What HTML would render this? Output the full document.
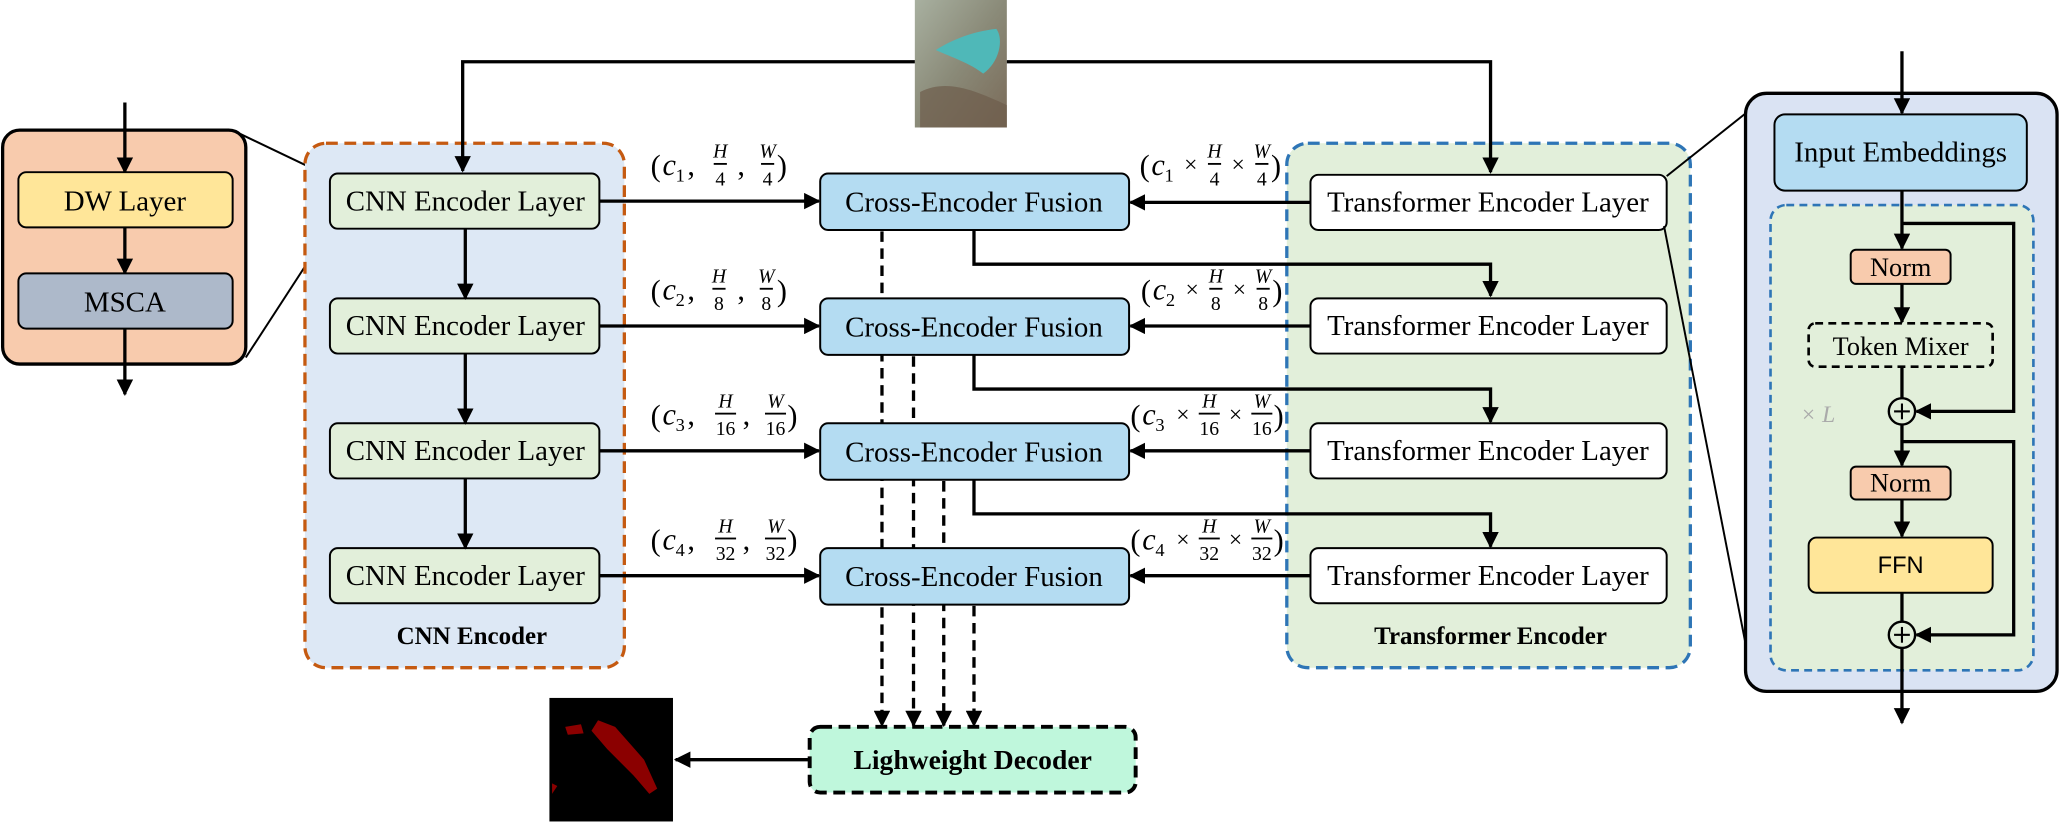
<!DOCTYPE html>
<html><head><meta charset="utf-8"><style>
html,body{margin:0;padding:0;background:#fff}
svg{display:block}
</style></head><body>
<svg width="2061" height="822" viewBox="0 0 1568 625.4" preserveAspectRatio="none" xmlns="http://www.w3.org/2000/svg">
<defs>
<marker id="a" viewBox="0 0 10 10" refX="9" refY="5" markerWidth="5" markerHeight="5" orient="auto-start-reverse"><path d="M0,0 L10,5 L0,10 z" fill="#000"/></marker>
</defs>
<rect x="2" y="99" width="185" height="178" rx="13" fill="#f8cbad" stroke="#000" stroke-width="2.5"/>
<line x1="95" y1="78" x2="95" y2="131" stroke="#000" stroke-width="2.5" marker-end="url(#a)"/>
<line x1="95" y1="173" x2="95" y2="208" stroke="#000" stroke-width="2.5" marker-end="url(#a)"/>
<line x1="95" y1="250" x2="95" y2="300" stroke="#000" stroke-width="2.5" marker-end="url(#a)"/>
<rect x="14" y="131" width="163" height="42" rx="6" fill="#ffe699" stroke="#000" stroke-width="1.5"/>
<text x="95" y="160" text-anchor="middle" style="font-family:'Liberation Serif',serif;font-size:22px">DW Layer</text>
<rect x="14" y="208" width="163" height="42" rx="6" fill="#adb9ca" stroke="#000" stroke-width="1.5"/>
<text x="95" y="237" text-anchor="middle" style="font-family:'Liberation Serif',serif;font-size:22px">MSCA</text>
<line x1="183" y1="102" x2="252" y2="135" stroke="#000" stroke-width="1.5"/>
<line x1="187" y1="272" x2="252" y2="172" stroke="#000" stroke-width="1.5"/>

<rect x="232" y="109" width="243" height="399" rx="16" fill="#dde8f5" stroke="#c55a11" stroke-width="2.5" stroke-dasharray="9,5"/>
<text x="359" y="490" text-anchor="middle" style="font-family:'Liberation Serif',serif;font-weight:bold;font-size:19px">CNN Encoder</text>
<rect x="979" y="109" width="307" height="399" rx="16" fill="#e2efda" stroke="#2e75b6" stroke-width="2.5" stroke-dasharray="9,5"/>
<text x="1134" y="490" text-anchor="middle" style="font-family:'Liberation Serif',serif;font-weight:bold;font-size:19px">Transformer Encoder</text>

<defs><linearGradient id="s" x1="0" y1="0" x2="1" y2="1"><stop offset="0" stop-color="#a8b0a0"/><stop offset="0.5" stop-color="#8a8a78"/><stop offset="1" stop-color="#7a6a58"/></linearGradient></defs>
<rect x="696" y="0" width="70" height="97" fill="url(#s)"/>
<path d="M712,38 C725,30 740,24 758,22 C764,30 760,48 748,56 C738,48 725,44 712,38 z" fill="#4fb8b8"/>
<path d="M700,70 C720,60 740,68 766,80 L766,97 L700,97 z" fill="#6e5c4c" opacity="0.7"/>
<polyline points="696,47 352,47 352,130" fill="none" stroke="#000" stroke-width="2.5" marker-end="url(#a)"/>
<polyline points="766,47 1134,47 1134,131" fill="none" stroke="#000" stroke-width="2.5" marker-end="url(#a)"/>

<g stroke="#000" stroke-width="2.5" stroke-dasharray="8,5" fill="none">
<line x1="671" y1="176" x2="671" y2="552" marker-end="url(#a)"/>
<line x1="695" y1="271" x2="695" y2="552" marker-end="url(#a)"/>
<line x1="718" y1="366" x2="718" y2="552" marker-end="url(#a)"/>
<line x1="741" y1="461" x2="741" y2="552" marker-end="url(#a)"/>
</g>
<g stroke="#000" stroke-width="2.5" fill="none">
<polyline points="741,174 741,201 1134,201 1134,225" marker-end="url(#a)"/>
<polyline points="741,269 741,296 1134,296 1134,321" marker-end="url(#a)"/>
<polyline points="741,364 741,391 1134,391 1134,416" marker-end="url(#a)"/>
</g>

<g stroke="#000" stroke-width="1.5">
<rect x="251" y="132" width="205" height="42" rx="6" fill="#e2efda"/>
<rect x="251" y="227" width="205" height="42" rx="6" fill="#e2efda"/>
<rect x="251" y="322" width="205" height="42" rx="6" fill="#e2efda"/>
<rect x="251" y="417" width="205" height="42" rx="6" fill="#e2efda"/>
<rect x="624" y="132" width="235" height="43" rx="6" fill="#b4dcf2"/>
<rect x="624" y="227" width="235" height="43" rx="6" fill="#b4dcf2"/>
<rect x="624" y="322" width="235" height="43" rx="6" fill="#b4dcf2"/>
<rect x="624" y="417" width="235" height="43" rx="6" fill="#b4dcf2"/>
<rect x="997" y="133" width="271" height="42" rx="6" fill="#fff"/>
<rect x="997" y="227" width="271" height="42" rx="6" fill="#fff"/>
<rect x="997" y="322" width="271" height="42" rx="6" fill="#fff"/>
<rect x="997" y="417" width="271" height="42" rx="6" fill="#fff"/>
</g>
<g text-anchor="middle" style="font-family:'Liberation Serif',serif;font-size:22px">
<text x="354" y="160" style="font-family:'Liberation Serif',serif">CNN Encoder Layer</text>
<text x="354" y="255" style="font-family:'Liberation Serif',serif">CNN Encoder Layer</text>
<text x="354" y="350" style="font-family:'Liberation Serif',serif">CNN Encoder Layer</text>
<text x="354" y="445" style="font-family:'Liberation Serif',serif">CNN Encoder Layer</text>
<text x="741" y="161" style="font-family:'Liberation Serif',serif">Cross-Encoder Fusion</text>
<text x="741" y="256" style="font-family:'Liberation Serif',serif">Cross-Encoder Fusion</text>
<text x="741" y="351" style="font-family:'Liberation Serif',serif">Cross-Encoder Fusion</text>
<text x="741" y="446" style="font-family:'Liberation Serif',serif">Cross-Encoder Fusion</text>
<text x="1132" y="161" style="font-family:'Liberation Serif',serif">Transformer Encoder Layer</text>
<text x="1132" y="255" style="font-family:'Liberation Serif',serif">Transformer Encoder Layer</text>
<text x="1132" y="350" style="font-family:'Liberation Serif',serif">Transformer Encoder Layer</text>
<text x="1132" y="445" style="font-family:'Liberation Serif',serif">Transformer Encoder Layer</text>
</g>
<g stroke="#000" stroke-width="2.5" fill="none">
<line x1="354" y1="174" x2="354" y2="227" marker-end="url(#a)"/>
<line x1="354" y1="269" x2="354" y2="322" marker-end="url(#a)"/>
<line x1="354" y1="364" x2="354" y2="417" marker-end="url(#a)"/>
<line x1="456" y1="153" x2="623" y2="153" marker-end="url(#a)"/>
<line x1="456" y1="248" x2="623" y2="248" marker-end="url(#a)"/>
<line x1="456" y1="343" x2="623" y2="343" marker-end="url(#a)"/>
<line x1="456" y1="438" x2="623" y2="438" marker-end="url(#a)"/>
<line x1="997" y1="154" x2="860" y2="154" marker-end="url(#a)"/>
<line x1="997" y1="248" x2="860" y2="248" marker-end="url(#a)"/>
<line x1="997" y1="343" x2="860" y2="343" marker-end="url(#a)"/>
<line x1="997" y1="438" x2="860" y2="438" marker-end="url(#a)"/>
<line x1="616" y1="578" x2="514" y2="578" marker-end="url(#a)"/>
</g>

<!-- left labels -->
<g style="font-family:'Liberation Serif',serif;font-size:23px">
<text x="495" y="134">(</text><text x="504" y="133" font-style="italic">c</text><text x="514" y="138" font-size="14">1</text><text x="523" y="133">,</text><text x="561" y="133">,</text><text x="591" y="134">)</text>
<text x="495" y="229">(</text><text x="504" y="228" font-style="italic">c</text><text x="514" y="233" font-size="14">2</text><text x="523" y="228">,</text><text x="561" y="228">,</text><text x="591" y="229">)</text>
<text x="495" y="324">(</text><text x="504" y="323" font-style="italic">c</text><text x="514" y="328" font-size="14">3</text><text x="523" y="323">,</text><text x="565" y="323">,</text><text x="599" y="324">)</text>
<text x="495" y="419">(</text><text x="504" y="418" font-style="italic">c</text><text x="514" y="423" font-size="14">4</text><text x="523" y="418">,</text><text x="565" y="418">,</text><text x="599" y="419">)</text>
</g>
<g text-anchor="middle" style="font-family:'Liberation Serif',serif;font-size:15px">
<text x="548" y="120" font-style="italic">H</text><text x="548" y="141">4</text><text x="584" y="120" font-style="italic">W</text><text x="584" y="141">4</text>
<text x="547" y="215" font-style="italic">H</text><text x="547" y="236">8</text><text x="583" y="215" font-style="italic">W</text><text x="583" y="236">8</text>
<text x="552" y="310" font-style="italic">H</text><text x="552" y="331">16</text><text x="590" y="310" font-style="italic">W</text><text x="590" y="331">16</text>
<text x="552" y="405" font-style="italic">H</text><text x="552" y="426">32</text><text x="590" y="405" font-style="italic">W</text><text x="590" y="426">32</text>
</g>
<g fill="#000">
<rect x="543" y="124" width="10" height="1.4"/><rect x="579" y="124" width="10" height="1.4"/>
<rect x="542" y="219" width="10" height="1.4"/><rect x="578" y="219" width="10" height="1.4"/>
<rect x="544" y="314" width="16" height="1.4"/><rect x="582" y="314" width="16" height="1.4"/>
<rect x="544" y="409" width="16" height="1.4"/><rect x="582" y="409" width="16" height="1.4"/>
</g>
<!-- right labels -->
<g style="font-family:'Liberation Serif',serif;font-size:23px">
<text x="867" y="134">(</text><text x="876" y="133" font-style="italic">c</text><text x="886" y="138" font-size="14">1</text><text x="906" y="131" font-size="18" text-anchor="middle">×</text><text x="942" y="131" font-size="18" text-anchor="middle">×</text><text x="967" y="134">)</text>
<text x="868" y="229">(</text><text x="877" y="228" font-style="italic">c</text><text x="887" y="233" font-size="14">2</text><text x="907" y="226" font-size="18" text-anchor="middle">×</text><text x="943" y="226" font-size="18" text-anchor="middle">×</text><text x="968" y="229">)</text>
<text x="860" y="324">(</text><text x="869" y="323" font-style="italic">c</text><text x="879" y="328" font-size="14">3</text><text x="900" y="321" font-size="18" text-anchor="middle">×</text><text x="940" y="321" font-size="18" text-anchor="middle">×</text><text x="969" y="324">)</text>
<text x="860" y="419">(</text><text x="869" y="418" font-style="italic">c</text><text x="879" y="423" font-size="14">4</text><text x="900" y="416" font-size="18" text-anchor="middle">×</text><text x="940" y="416" font-size="18" text-anchor="middle">×</text><text x="969" y="419">)</text>
</g>
<g text-anchor="middle" style="font-family:'Liberation Serif',serif;font-size:15px">
<text x="924" y="120" font-style="italic">H</text><text x="924" y="141">4</text><text x="960" y="120" font-style="italic">W</text><text x="960" y="141">4</text>
<text x="925" y="215" font-style="italic">H</text><text x="925" y="236">8</text><text x="961" y="215" font-style="italic">W</text><text x="961" y="236">8</text>
<text x="920" y="310" font-style="italic">H</text><text x="920" y="331">16</text><text x="960" y="310" font-style="italic">W</text><text x="960" y="331">16</text>
<text x="920" y="405" font-style="italic">H</text><text x="920" y="426">32</text><text x="960" y="405" font-style="italic">W</text><text x="960" y="426">32</text>
</g>
<g fill="#000">
<rect x="919" y="124" width="10" height="1.4"/><rect x="955" y="124" width="10" height="1.4"/>
<rect x="920" y="219" width="10" height="1.4"/><rect x="956" y="219" width="10" height="1.4"/>
<rect x="912" y="314" width="16" height="1.4"/><rect x="952" y="314" width="16" height="1.4"/>
<rect x="912" y="409" width="16" height="1.4"/><rect x="952" y="409" width="16" height="1.4"/>
</g>

<rect x="616" y="553" width="248" height="50" rx="8" fill="#bff7dc" stroke="#000" stroke-width="3" stroke-dasharray="9,5"/>
<text x="740" y="585" text-anchor="middle" style="font-family:'Liberation Serif',serif;font-weight:bold;font-size:21px">Lighweight Decoder</text>
<rect x="418" y="531" width="94" height="94" fill="#000"/>
<path d="M455,548 L468,553 L490,578 L500,600 L494,604 L482,590 L462,570 L450,556 z" fill="#8b0000"/>
<path d="M430,553 L442,551 L444,558 L432,559 z" fill="#8b0000"/>
<path d="M420,596 L424,598 L420,604 z" fill="#8b0000"/>

<line x1="1268" y1="134" x2="1346" y2="72" stroke="#000" stroke-width="1.5"/>
<line x1="1266" y1="172" x2="1330" y2="500" stroke="#000" stroke-width="1.5"/>
<rect x="1328" y="71" width="237" height="455" rx="16" fill="#dae3f3" stroke="#000" stroke-width="2.5"/>
<rect x="1347" y="156" width="200" height="354" rx="12" fill="#e2efda" stroke="#2e75b6" stroke-width="2" stroke-dasharray="6,4"/>
<line x1="1447" y1="39" x2="1447" y2="86" stroke="#000" stroke-width="2.5" marker-end="url(#a)"/>
<rect x="1350" y="87" width="192" height="58" rx="8" fill="#b4dcf2" stroke="#000" stroke-width="1.5"/>
<text x="1446" y="123" text-anchor="middle" style="font-family:'Liberation Serif',serif;font-size:22px">Input Embeddings</text>
<g stroke="#000" stroke-width="2.5" fill="none">
<line x1="1447" y1="145" x2="1447" y2="189" marker-end="url(#a)"/>
<line x1="1447" y1="216" x2="1447" y2="245" marker-end="url(#a)"/>
<line x1="1447" y1="279" x2="1447" y2="303"/>
<line x1="1447" y1="323" x2="1447" y2="354" marker-end="url(#a)"/>
<line x1="1447" y1="380" x2="1447" y2="408" marker-end="url(#a)"/>
<line x1="1447" y1="451" x2="1447" y2="473"/>
<line x1="1447" y1="493" x2="1447" y2="550" marker-end="url(#a)"/>
<polyline points="1447,170 1532,170 1532,313 1458,313" marker-end="url(#a)"/>
<polyline points="1447,336 1532,336 1532,483 1458,483" marker-end="url(#a)"/>
</g>
<rect x="1408" y="190" width="76" height="26" rx="4" fill="#f8cbad" stroke="#000" stroke-width="1.5"/>
<text x="1446" y="210" text-anchor="middle" style="font-family:'Liberation Serif',serif;font-size:20px">Norm</text>
<rect x="1376" y="246" width="140" height="33" rx="5" fill="none" stroke="#000" stroke-width="2" stroke-dasharray="6,4"/>
<text x="1446" y="270" text-anchor="middle" style="font-family:'Liberation Serif',serif;font-size:20px">Token Mixer</text>
<circle cx="1447" cy="313" r="10" fill="none" stroke="#000" stroke-width="1.8"/>
<rect x="1441" y="312.2" width="12" height="1.6" fill="#000"/>
<rect x="1446.2" y="307" width="1.6" height="12" fill="#000"/>
<text x="1383" y="321" text-anchor="middle" style="font-family:'Liberation Serif',serif;font-style:italic;font-size:18px;fill:#aaa">× L</text>
<rect x="1408" y="355" width="76" height="25" rx="4" fill="#f8cbad" stroke="#000" stroke-width="1.5"/>
<text x="1446" y="374" text-anchor="middle" style="font-family:'Liberation Serif',serif;font-size:20px">Norm</text>
<rect x="1376" y="409" width="140" height="42" rx="6" fill="#ffe699" stroke="#000" stroke-width="1.5"/>
<text x="1446" y="436" text-anchor="middle" style="font-family:'Liberation Sans',sans-serif;font-size:18px">FFN</text>
<circle cx="1447" cy="483" r="10" fill="none" stroke="#000" stroke-width="1.8"/>
<rect x="1441" y="482.2" width="12" height="1.6" fill="#000"/>
<rect x="1446.2" y="477" width="1.6" height="12" fill="#000"/>
</svg>
</body></html>
